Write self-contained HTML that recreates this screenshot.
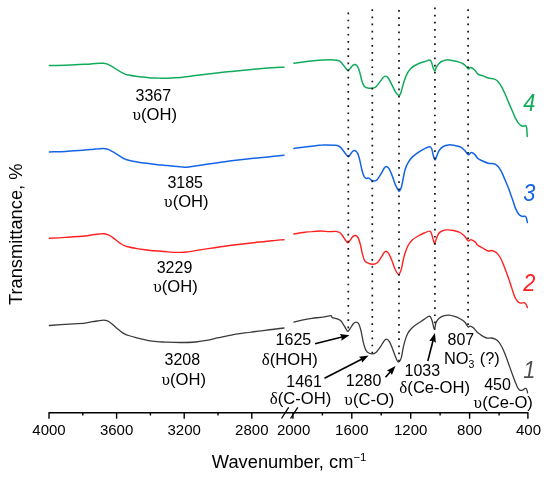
<!DOCTYPE html><html><head><meta charset="utf-8"><title>FTIR spectra</title><style>html,body{margin:0;padding:0;background:#fff}svg{display:block}</style></head><body><svg width="550" height="478" viewBox="0 0 550 478">
<rect width="550" height="478" fill="#fff"/>
<g fill="none" stroke="#3a3a3a" stroke-width="1.3" stroke-linejoin="round" stroke-linecap="round"><path d="M49.4 325.5C52.1 325.3 59.6 324.8 65.5 324.4C71.4 324.0 80.5 323.6 85.0 323.2C89.5 322.8 89.9 322.1 92.3 321.7C94.7 321.3 97.6 320.9 99.5 320.6C101.4 320.3 102.7 320.1 103.9 320.1C105.1 320.1 105.7 320.3 106.8 320.7C107.9 321.1 109.3 321.8 110.5 322.7C111.7 323.6 112.9 324.8 114.1 325.8C115.3 326.9 116.5 328.0 117.7 329.0C118.9 330.0 120.2 331.0 121.4 331.9C122.6 332.8 123.8 333.5 125.0 334.1C126.2 334.7 126.8 334.9 128.6 335.5C130.4 336.1 133.5 337.0 135.9 337.6C138.3 338.2 140.8 338.8 143.2 339.3C145.6 339.8 148.1 340.4 150.5 340.8C152.9 341.2 155.3 341.5 157.7 341.7C160.1 341.9 163.4 342.0 165.0 342.1C166.6 342.2 164.8 342.1 167.3 342.2C169.8 342.3 175.3 342.5 180.0 342.5C184.7 342.5 190.8 342.4 195.5 342.0C200.2 341.6 204.4 340.9 208.2 340.2C212.0 339.5 214.2 338.6 218.4 337.7C222.6 336.8 228.1 335.5 233.6 334.6C239.1 333.7 245.0 333.0 251.4 332.1C257.8 331.2 266.4 330.2 271.8 329.5C277.2 328.8 282.0 328.2 284.0 328.0"/><path d="M293.9 322.1C295.4 321.7 300.1 320.5 303.1 319.9C306.1 319.3 308.5 318.9 311.8 318.4C315.1 317.9 319.5 317.6 322.7 317.1C325.9 316.6 329.2 315.6 330.8 315.6C332.4 315.6 330.8 316.7 332.0 317.3C333.2 317.9 336.6 318.5 338.1 319.1C339.6 319.7 340.0 319.9 341.0 321.0C342.0 322.1 343.0 324.0 343.9 325.4C344.8 326.8 345.6 328.4 346.3 329.4C347.0 330.4 347.2 331.5 347.9 331.3C348.6 331.1 349.5 329.4 350.4 328.2C351.3 326.9 352.4 324.8 353.3 323.8C354.2 322.8 355.2 322.1 356.1 322.1C357.0 322.1 357.9 322.4 358.7 323.8C359.5 325.2 360.2 327.5 360.9 330.4C361.6 333.3 362.4 338.2 363.1 341.3C363.8 344.4 364.6 347.1 365.3 348.9C366.0 350.7 366.4 351.4 367.5 352.2C368.6 353.0 370.4 353.9 371.8 353.9C373.2 353.9 374.8 353.4 376.2 352.2C377.6 351.0 379.2 348.5 380.5 346.7C381.8 344.9 382.8 342.6 383.8 341.3C384.8 340.0 385.5 339.1 386.4 339.1C387.3 339.1 388.3 339.7 389.3 341.3C390.3 342.9 391.5 346.2 392.6 348.9C393.7 351.6 394.8 355.4 395.8 357.6C396.8 359.8 397.5 362.0 398.4 362.0C399.3 362.0 400.5 360.1 401.3 357.6C402.1 355.2 402.6 350.4 403.3 347.3C404.0 344.2 404.7 341.5 405.5 339.1C406.3 336.7 407.0 334.7 408.2 332.7C409.4 330.7 411.0 328.9 412.7 327.3C414.4 325.7 416.4 324.6 418.2 323.3C420.0 322.0 421.9 320.8 423.6 319.6C425.3 318.5 427.5 316.8 428.6 316.4C429.8 315.9 429.9 316.0 430.5 316.9C431.1 317.8 431.8 319.7 432.4 321.8C433.0 323.9 433.8 329.2 434.4 329.3C435.0 329.4 435.2 324.6 436.0 322.7C436.8 320.8 437.8 319.3 439.1 318.2C440.4 317.1 441.9 316.3 443.6 315.8C445.3 315.3 447.3 315.0 449.1 315.1C450.9 315.2 452.7 315.8 454.5 316.4C456.3 317.0 458.3 317.8 460.0 318.7C461.7 319.6 463.4 320.7 464.5 321.8C465.6 322.9 466.3 324.4 466.9 325.3C467.5 326.2 467.8 327.0 468.3 327.1C468.8 327.2 469.2 326.1 470.0 326.2C470.8 326.3 472.2 326.9 473.3 327.8C474.4 328.7 475.6 330.6 476.7 331.7C477.8 332.8 478.9 333.5 480.0 334.3C481.1 335.1 482.2 336.0 483.5 336.6C484.8 337.2 486.2 337.9 487.5 338.1C488.8 338.3 490.2 337.8 491.5 338.0C492.8 338.2 494.1 338.6 495.3 339.2C496.5 339.8 497.4 340.3 498.5 341.6C499.6 342.9 500.7 344.7 501.8 346.8C502.9 348.9 504.0 351.5 505.1 354.3C506.2 357.1 507.4 360.4 508.5 363.5C509.6 366.6 510.7 369.6 511.8 372.7C512.9 375.8 514.2 379.4 515.2 381.9C516.2 384.4 516.9 386.4 517.7 387.8C518.5 389.2 519.4 389.9 520.2 390.3C521.0 390.7 521.9 390.3 522.7 390.0C523.5 389.7 524.5 388.4 525.2 388.3C525.9 388.2 526.3 388.4 526.7 389.2C527.1 389.9 527.5 392.2 527.6 392.8"/></g>
<g fill="none" stroke="#ff2020" stroke-width="1.4" stroke-linejoin="round" stroke-linecap="round"><path d="M49.4 238.2C52.1 238.1 59.6 237.8 65.5 237.4C71.4 237.0 80.5 236.4 85.0 236.0C89.5 235.6 89.9 235.1 92.3 234.8C94.7 234.5 97.6 234.2 99.5 234.0C101.4 233.8 102.7 233.6 103.9 233.7C105.1 233.8 105.7 233.9 106.8 234.3C107.9 234.7 109.3 235.3 110.5 236.0C111.7 236.7 112.9 237.7 114.1 238.6C115.3 239.5 116.5 240.6 117.7 241.5C118.9 242.4 120.2 243.3 121.4 244.0C122.6 244.7 123.8 245.4 125.0 245.9C126.2 246.4 126.8 246.5 128.6 246.9C130.4 247.3 133.5 248.0 135.9 248.4C138.3 248.8 140.8 249.2 143.2 249.5C145.6 249.8 148.1 250.2 150.5 250.5C152.9 250.8 155.3 250.8 157.7 251.0C160.1 251.2 163.4 251.3 165.0 251.5C166.6 251.7 164.8 251.8 167.3 251.9C169.8 252.1 176.8 252.4 180.2 252.4C183.6 252.4 185.2 252.2 187.8 251.9C190.4 251.6 192.1 251.2 195.5 250.6C198.9 250.0 204.0 249.2 208.2 248.6C212.4 248.0 216.7 247.4 220.9 246.8C225.1 246.2 228.5 245.6 233.6 245.0C238.7 244.4 245.0 243.7 251.4 243.0C257.8 242.3 266.4 241.2 271.8 240.7C277.2 240.1 282.0 239.9 284.0 239.7"/><path d="M293.9 234.0C295.4 233.8 300.1 232.9 303.1 232.5C306.1 232.1 308.9 231.8 311.8 231.6C314.7 231.3 317.6 231.0 320.5 231.0C323.4 231.0 326.8 231.5 329.3 231.6C331.9 231.7 334.1 231.2 335.8 231.4C337.5 231.6 338.6 231.8 339.7 232.5C340.8 233.2 341.4 234.2 342.4 235.5C343.4 236.8 344.7 239.1 345.6 240.3C346.5 241.5 347.2 242.8 348.0 242.7C348.8 242.6 349.6 240.9 350.4 239.9C351.2 238.9 351.9 237.3 352.8 236.6C353.7 235.9 354.6 235.3 355.5 235.5C356.4 235.7 357.3 236.2 358.1 237.7C358.9 239.2 359.6 241.6 360.3 244.3C361.0 247.0 361.7 251.4 362.4 254.1C363.1 256.8 363.8 259.2 364.6 260.6C365.5 262.1 366.1 262.2 367.5 262.8C368.9 263.4 371.3 264.3 372.9 264.3C374.5 264.3 375.9 264.0 377.3 262.8C378.7 261.6 380.1 259.0 381.2 257.4C382.3 255.8 383.0 254.0 383.8 253.0C384.6 252.0 385.2 251.2 386.0 251.3C386.8 251.4 387.7 252.0 388.6 253.4C389.5 254.8 390.5 257.0 391.5 259.5C392.5 262.0 393.6 265.8 394.7 268.3C395.8 270.8 397.3 274.2 398.4 274.4C399.5 274.6 400.4 271.8 401.2 269.6C402.0 267.4 402.3 263.8 403.0 261.0C403.7 258.2 404.3 255.4 405.2 252.8C406.1 250.2 406.9 247.7 408.1 245.5C409.3 243.3 410.8 241.3 412.5 239.7C414.2 238.1 416.4 237.1 418.3 236.0C420.2 234.9 422.2 233.8 424.1 233.0C426.0 232.2 428.3 231.1 429.5 231.1C430.7 231.1 430.7 231.6 431.3 233.0C431.9 234.4 432.6 237.6 433.1 239.4C433.7 241.2 434.1 243.7 434.6 243.7C435.1 243.7 435.4 241.1 436.1 239.4C436.8 237.7 437.7 234.9 438.7 233.5C439.7 232.1 440.6 231.6 442.0 231.0C443.4 230.4 445.2 230.0 447.1 229.9C449.0 229.8 451.2 230.1 453.4 230.5C455.5 230.9 458.1 231.5 460.0 232.5C461.9 233.5 463.3 234.9 464.7 236.3C466.1 237.7 467.3 240.4 468.3 241.0C469.3 241.6 469.7 239.4 470.8 239.6C471.9 239.8 473.9 240.9 475.1 241.9C476.3 242.9 476.6 244.3 477.9 245.3C479.1 246.3 480.9 247.1 482.6 248.0C484.3 248.9 486.6 250.6 488.2 251.0C489.8 251.4 490.6 250.2 492.0 250.5C493.4 250.8 495.3 251.7 496.7 252.9C498.1 254.2 499.2 255.8 500.5 258.0C501.8 260.2 502.9 263.3 504.2 266.4C505.4 269.5 506.7 273.2 508.0 276.8C509.3 280.4 510.7 284.8 511.8 288.1C512.9 291.4 513.7 294.3 514.6 296.5C515.5 298.7 516.5 300.2 517.4 301.3C518.3 302.4 519.2 302.9 520.3 303.1C521.4 303.3 523.1 302.4 524.0 302.6C524.9 302.8 525.3 303.3 525.9 304.1C526.5 304.9 527.1 306.9 527.4 307.5"/></g>
<g fill="none" stroke="#1464e6" stroke-width="1.5" stroke-linejoin="round" stroke-linecap="round"><path d="M49.4 151.9C52.1 151.8 59.6 151.7 65.5 151.4C71.4 151.1 80.5 150.3 85.0 150.0C89.5 149.7 89.9 149.6 92.3 149.4C94.7 149.2 97.3 148.8 99.5 148.7C101.7 148.6 103.9 148.6 105.4 148.7C106.9 148.8 107.1 148.9 108.3 149.4C109.5 149.9 111.1 150.9 112.6 151.7C114.0 152.5 115.5 153.4 117.0 154.3C118.5 155.2 120.1 156.3 121.4 157.1C122.7 157.9 123.8 158.6 125.0 159.1C126.2 159.6 126.8 159.9 128.6 160.3C130.4 160.8 133.5 161.4 135.9 161.8C138.3 162.2 140.8 162.6 143.2 162.9C145.6 163.2 148.1 163.5 150.5 163.8C152.9 164.1 155.3 164.4 157.7 164.7C160.1 165.0 163.4 165.2 165.0 165.4C166.6 165.6 164.8 165.4 167.3 165.6C169.8 165.8 177.0 166.4 180.2 166.7C183.4 167.0 183.9 167.3 186.5 167.2C189.1 167.1 191.9 166.4 195.5 165.9C199.1 165.4 204.0 164.7 208.2 164.1C212.4 163.5 216.7 162.9 220.9 162.3C225.1 161.7 228.5 161.1 233.6 160.5C238.7 159.9 245.0 159.2 251.4 158.5C257.8 157.8 266.4 157.1 271.8 156.5C277.2 155.9 282.0 155.4 284.0 155.2"/><path d="M293.9 148.4C295.4 148.2 300.1 147.7 303.1 147.3C306.1 146.9 308.5 146.6 311.8 146.2C315.1 145.8 319.1 145.2 322.7 145.1C326.3 144.9 330.9 145.1 333.6 145.3C336.3 145.5 337.6 145.5 339.1 146.2C340.6 146.9 341.3 148.2 342.4 149.5C343.5 150.8 344.6 152.6 345.6 153.8C346.6 155.0 347.5 156.7 348.3 156.7C349.1 156.7 349.9 154.7 350.7 153.8C351.4 152.9 352.1 151.8 352.8 151.2C353.5 150.6 354.0 150.2 354.8 150.5C355.6 150.8 356.8 151.5 357.6 153.2C358.4 154.8 359.1 157.6 359.8 160.4C360.5 163.2 361.3 167.5 362.0 170.2C362.7 172.9 363.5 175.3 364.2 176.7C364.9 178.1 365.7 178.3 366.4 178.5C367.1 178.7 367.7 177.8 368.5 178.0C369.3 178.2 370.3 179.5 371.2 180.0C372.1 180.5 373.0 181.2 374.0 181.1C375.0 181.0 376.1 180.7 377.3 179.4C378.5 178.1 380.0 175.4 381.2 173.5C382.4 171.6 383.4 169.2 384.3 168.0C385.2 166.8 385.6 166.3 386.4 166.5C387.2 166.7 388.4 167.6 389.3 169.1C390.2 170.6 391.1 173.0 392.1 175.6C393.1 178.2 394.2 182.0 395.2 184.4C396.2 186.8 397.3 188.7 398.0 189.8C398.7 190.9 399.0 191.5 399.6 191.0C400.2 190.5 400.9 188.6 401.5 186.7C402.1 184.8 402.4 182.4 403.0 179.5C403.6 176.6 404.3 172.1 405.2 169.3C406.1 166.5 406.9 164.8 408.1 162.7C409.3 160.6 410.8 158.6 412.5 156.9C414.2 155.2 416.4 153.8 418.3 152.4C420.2 151.1 422.4 149.8 424.2 148.8C426.0 147.9 428.1 146.8 429.3 146.7C430.5 146.6 430.9 147.0 431.6 148.5C432.3 150.0 432.7 153.7 433.3 155.6C433.9 157.5 434.5 160.0 435.1 160.0C435.7 160.0 436.2 157.3 436.9 155.6C437.6 153.9 438.4 151.5 439.5 150.0C440.6 148.5 441.8 147.3 443.3 146.5C444.8 145.7 446.5 145.1 448.4 144.9C450.3 144.7 452.8 145.2 454.7 145.5C456.6 145.8 458.3 145.9 460.0 146.7C461.7 147.5 463.3 149.1 464.7 150.4C466.1 151.8 467.2 154.4 468.3 154.8C469.4 155.2 469.9 152.7 471.0 152.6C472.1 152.5 473.6 153.4 474.7 154.4C475.8 155.4 476.6 157.4 477.9 158.5C479.2 159.6 480.9 160.2 482.6 161.0C484.3 161.8 486.3 162.7 488.2 163.2C490.1 163.7 492.3 163.3 493.9 163.8C495.5 164.3 496.4 164.8 497.7 166.1C498.9 167.4 500.1 169.3 501.4 171.7C502.6 174.0 503.9 177.2 505.2 180.2C506.5 183.2 507.8 186.3 509.0 189.6C510.2 192.9 511.6 196.9 512.7 200.0C513.8 203.1 514.5 206.1 515.5 208.4C516.5 210.7 517.4 212.4 518.4 213.7C519.4 215.0 520.7 215.9 521.8 216.3C522.9 216.7 524.2 216.1 525.0 216.3C525.8 216.6 525.9 216.8 526.3 217.8C526.7 218.9 527.2 221.8 527.4 222.6"/></g>
<g fill="none" stroke="#12ab5c" stroke-width="1.5" stroke-linejoin="round" stroke-linecap="round"><path d="M49.4 65.5C52.1 65.5 59.6 65.4 65.5 65.2C71.4 65.0 80.5 64.5 85.0 64.3C89.5 64.1 89.9 64.0 92.3 63.8C94.7 63.6 97.7 63.4 99.5 63.3C101.3 63.2 102.0 63.1 103.2 63.2C104.4 63.3 105.6 63.5 106.8 63.9C108.0 64.3 109.3 65.0 110.5 65.7C111.7 66.4 112.9 67.0 114.1 67.8C115.3 68.5 116.5 69.5 117.7 70.2C118.9 71.0 120.2 71.7 121.4 72.3C122.6 72.9 123.8 73.6 125.0 74.1C126.2 74.6 126.8 74.7 128.6 75.1C130.4 75.5 133.5 76.0 135.9 76.3C138.3 76.6 140.8 76.8 143.2 77.1C145.6 77.4 148.1 77.7 150.5 77.9C152.9 78.1 155.3 78.0 157.7 78.1C160.1 78.1 163.4 78.2 165.0 78.2C166.6 78.2 164.4 78.4 167.3 78.2C170.2 78.0 178.0 77.6 182.7 77.2C187.4 76.8 191.2 76.1 195.5 75.6C199.8 75.1 204.0 74.6 208.2 74.1C212.4 73.6 216.7 73.1 220.9 72.6C225.1 72.1 228.5 71.8 233.6 71.3C238.7 70.8 245.0 70.1 251.4 69.5C257.8 68.9 266.4 68.1 271.8 67.7C277.2 67.3 282.0 67.3 284.0 67.2"/><path d="M293.9 63.2C295.4 63.0 300.1 62.3 303.1 61.9C306.1 61.5 308.5 61.3 311.8 61.0C315.1 60.7 319.1 60.3 322.7 60.1C326.3 59.9 331.0 59.8 333.6 59.9C336.2 60.0 337.0 60.0 338.4 60.5C339.8 61.0 340.8 62.0 341.9 63.2C343.0 64.4 344.2 66.3 345.2 67.5C346.2 68.7 347.1 70.5 348.0 70.6C348.9 70.7 349.6 69.1 350.4 68.2C351.2 67.3 352.0 65.9 352.8 65.3C353.6 64.7 354.2 64.3 355.0 64.5C355.8 64.7 356.8 65.4 357.6 66.7C358.4 68.0 359.1 70.1 359.8 72.5C360.5 74.9 361.3 79.0 362.0 81.3C362.7 83.6 363.4 85.2 364.2 86.3C365.0 87.4 365.6 87.5 366.8 87.8C368.0 88.1 369.8 88.4 371.2 88.3C372.6 88.2 374.1 88.2 375.5 87.2C376.9 86.2 378.3 83.9 379.5 82.4C380.7 80.9 381.7 79.0 382.7 78.0C383.7 77.0 384.7 76.3 385.6 76.3C386.5 76.3 387.2 76.7 388.2 78.0C389.2 79.3 390.4 82.0 391.5 84.1C392.6 86.1 393.7 88.7 394.6 90.3C395.5 91.9 396.1 93.0 396.8 93.8C397.5 94.6 398.2 95.3 398.8 95.3C399.4 95.3 400.0 95.1 400.6 93.6C401.2 92.1 401.9 88.9 402.6 86.5C403.3 84.1 404.0 81.6 404.8 79.3C405.6 77.0 406.7 74.4 407.7 72.6C408.7 70.8 409.6 69.8 410.6 68.7C411.7 67.6 412.7 66.8 414.0 66.0C415.3 65.2 416.6 64.4 418.3 63.7C420.0 63.0 422.2 62.4 424.1 61.8C426.0 61.2 428.4 60.1 429.6 60.1C430.8 60.1 430.8 60.5 431.4 61.8C432.0 63.0 432.5 66.1 433.1 67.6C433.7 69.1 434.2 71.1 434.8 71.0C435.4 70.9 435.9 68.1 436.5 66.9C437.1 65.7 437.8 64.9 438.6 64.0C439.4 63.1 440.4 62.1 441.5 61.5C442.6 60.9 444.0 60.5 445.2 60.2C446.4 59.9 447.5 59.8 448.8 59.9C450.1 60.0 451.5 60.3 453.2 60.7C454.9 61.1 457.3 61.6 459.0 62.1C460.7 62.6 462.2 63.3 463.4 64.0C464.6 64.7 465.5 65.7 466.3 66.5C467.1 67.3 467.6 68.8 468.3 69.0C469.0 69.2 469.4 67.4 470.5 67.6C471.6 67.8 473.5 68.9 474.7 70.0C475.9 71.1 476.6 73.2 477.9 74.2C479.2 75.2 480.9 75.1 482.6 75.7C484.3 76.3 486.3 77.5 488.2 78.0C490.1 78.5 492.3 78.4 493.9 78.9C495.5 79.4 496.4 80.0 497.7 81.2C498.9 82.5 500.1 84.2 501.4 86.4C502.6 88.6 503.9 91.5 505.2 94.3C506.5 97.1 507.8 100.5 509.0 103.4C510.2 106.3 511.6 109.3 512.7 111.8C513.8 114.3 514.5 116.5 515.5 118.4C516.5 120.3 517.4 121.8 518.4 123.1C519.4 124.4 520.8 125.5 521.8 126.0C522.8 126.5 523.7 126.1 524.4 126.0C525.1 125.9 525.5 125.1 525.9 125.6C526.3 126.1 526.6 127.0 526.8 128.8C527.0 130.6 527.1 135.2 527.2 136.5"/></g>
<g stroke="#111" stroke-width="1.7" stroke-dasharray="1.7 5.435" fill="none">
<path d="M348.3 12.5V330.0"/>
<path d="M372.3 9.3V353.5"/>
<path d="M399.0 10.1V361.5"/>
<path d="M434.9 7.6V329.5"/>
<path d="M468.1 9.3V325.0"/>
</g>
<path d="M48.4 412.7H528.6M49.0 412.7V418.8M116.6 412.7V418.8M184.2 412.7V418.8M251.8 412.7V418.8M82.8 412.7V415.6M150.4 412.7V415.6M218.0 412.7V415.6M292.9 412.7V418.8M351.8 412.7V418.8M410.7 412.7V418.8M469.6 412.7V418.8M527.9 412.7V418.8M322.4 412.7V415.6M381.2 412.7V415.6M440.1 412.7V415.6M499.1 412.7V415.6" stroke="#000" stroke-width="1.4" fill="none"/>
<path d="M281.5 418.5L288.7 407.3M290.5 418.5L297.8 407.3" stroke="#000" stroke-width="1.3" fill="none"/>
<path d="M315.0 343.7L343.0 336.8" stroke="#000" stroke-width="1.6" fill="none"/><path d="M349.5 335.2L341.4 340.7L341.7 337.1L339.8 334.1Z" fill="#000"/>
<path d="M324.5 378.2L362.6 358.7" stroke="#000" stroke-width="1.6" fill="none"/><path d="M368.6 355.6L362.0 362.8L361.5 359.2L358.9 356.8Z" fill="#000"/>
<path d="M385.5 377.3L391.1 371.0" stroke="#000" stroke-width="1.6" fill="none"/><path d="M395.5 366.0L391.9 375.1L390.2 372.0L386.9 370.6Z" fill="#000"/>
<path d="M427.8 361.0L433.3 339.5" stroke="#000" stroke-width="1.6" fill="none"/><path d="M434.9 333.0L435.9 342.8L432.9 340.8L429.3 341.1Z" fill="#000"/>
<g font-family="Liberation Sans, sans-serif" fill="#000"><text x="49.0" y="434.8" font-size="15" text-anchor="middle" >4000</text><text x="116.6" y="434.8" font-size="15" text-anchor="middle" >3600</text><text x="184.2" y="434.8" font-size="15" text-anchor="middle" >3200</text><text x="251.8" y="434.8" font-size="15" text-anchor="middle" >2800</text><text x="293.6" y="434.8" font-size="15" text-anchor="middle" >2000</text><text x="351.8" y="434.8" font-size="15" text-anchor="middle" >1600</text><text x="410.7" y="434.8" font-size="15" text-anchor="middle" >1200</text><text x="469.6" y="434.8" font-size="15" text-anchor="middle" >800</text><text x="528.5" y="434.8" font-size="15" text-anchor="middle" >400</text><text x="153.3" y="100.8" font-size="16" text-anchor="middle" >3367</text><text x="154.6" y="120.2" font-size="16.6" text-anchor="middle" ><tspan font-family="DejaVu Serif, serif" font-size="14.5">υ</tspan>(OH)</text><text x="185.2" y="188.0" font-size="16" text-anchor="middle" >3185</text><text x="186.2" y="207.0" font-size="16.6" text-anchor="middle" ><tspan font-family="DejaVu Serif, serif" font-size="14.5">υ</tspan>(OH)</text><text x="174.5" y="272.5" font-size="16" text-anchor="middle" >3229</text><text x="175.4" y="291.9" font-size="16.6" text-anchor="middle" ><tspan font-family="DejaVu Serif, serif" font-size="14.5">υ</tspan>(OH)</text><text x="182.3" y="365.4" font-size="16" text-anchor="middle" >3208</text><text x="183.6" y="385.0" font-size="16.6" text-anchor="middle" ><tspan font-family="DejaVu Serif, serif" font-size="14.5">υ</tspan>(OH)</text><text x="293.4" y="345.4" font-size="16" text-anchor="middle" >1625</text><text x="289.8" y="365.0" font-size="16.6" text-anchor="middle" ><tspan font-family="Liberation Serif, serif" font-size="17">δ</tspan>(HOH)</text><text x="304.1" y="386.8" font-size="16" text-anchor="middle" >1461</text><text x="300.5" y="404.1" font-size="16.6" text-anchor="middle" ><tspan font-family="Liberation Serif, serif" font-size="17">δ</tspan>(C-OH)</text><text x="363.6" y="385.9" font-size="16" text-anchor="middle" >1280</text><text x="369.2" y="404.5" font-size="16.6" text-anchor="middle" ><tspan font-family="DejaVu Serif, serif" font-size="14.5">υ</tspan>(C-O)</text><text x="422.3" y="375.6" font-size="16" text-anchor="middle" >1033</text><text x="434.7" y="392.5" font-size="16.6" text-anchor="middle" ><tspan font-family="Liberation Serif, serif" font-size="17">δ</tspan>(Ce-OH)</text><text x="460.9" y="345.4" font-size="16" text-anchor="middle" >807</text><text x="444.0" y="363.5" font-size="16.4" text-anchor="start" >NO<tspan font-size="10.5" dy="4.6">3</tspan><tspan font-size="11" dy="-11.4" dx="-5.6">-</tspan></text><text x="479.8" y="363.5" font-size="16.4" text-anchor="start" >(?)</text><text x="497.5" y="389.5" font-size="16" text-anchor="middle" >450</text><text x="503.1" y="408.2" font-size="16.6" text-anchor="middle" ><tspan font-family="DejaVu Serif, serif" font-size="14.5">υ</tspan>(Ce-O)</text><text x="289.2" y="467.7" font-size="18.3" text-anchor="middle" >Wavenumber, cm<tspan font-size="11.5" dy="-7">−1</tspan></text><text transform="translate(21.9 234.3) rotate(-90)" font-size="18.3" text-anchor="middle">Transmittance, %</text></g>
<text transform="translate(529.3 377.5) scale(0.93 1)" fill="#505050" font-style="italic" font-size="23.4" text-anchor="middle" font-family="Liberation Sans, sans-serif">1</text>
<text transform="translate(529.3 290.5) scale(0.93 1)" fill="#ff2020" font-style="italic" font-size="23.4" text-anchor="middle" font-family="Liberation Sans, sans-serif">2</text>
<text transform="translate(529.3 201.3) scale(0.93 1)" fill="#1464e6" font-style="italic" font-size="23.4" text-anchor="middle" font-family="Liberation Sans, sans-serif">3</text>
<text transform="translate(529.3 110.9) scale(0.93 1)" fill="#12ab5c" font-style="italic" font-size="23.4" text-anchor="middle" font-family="Liberation Sans, sans-serif">4</text>
</svg></body></html>
